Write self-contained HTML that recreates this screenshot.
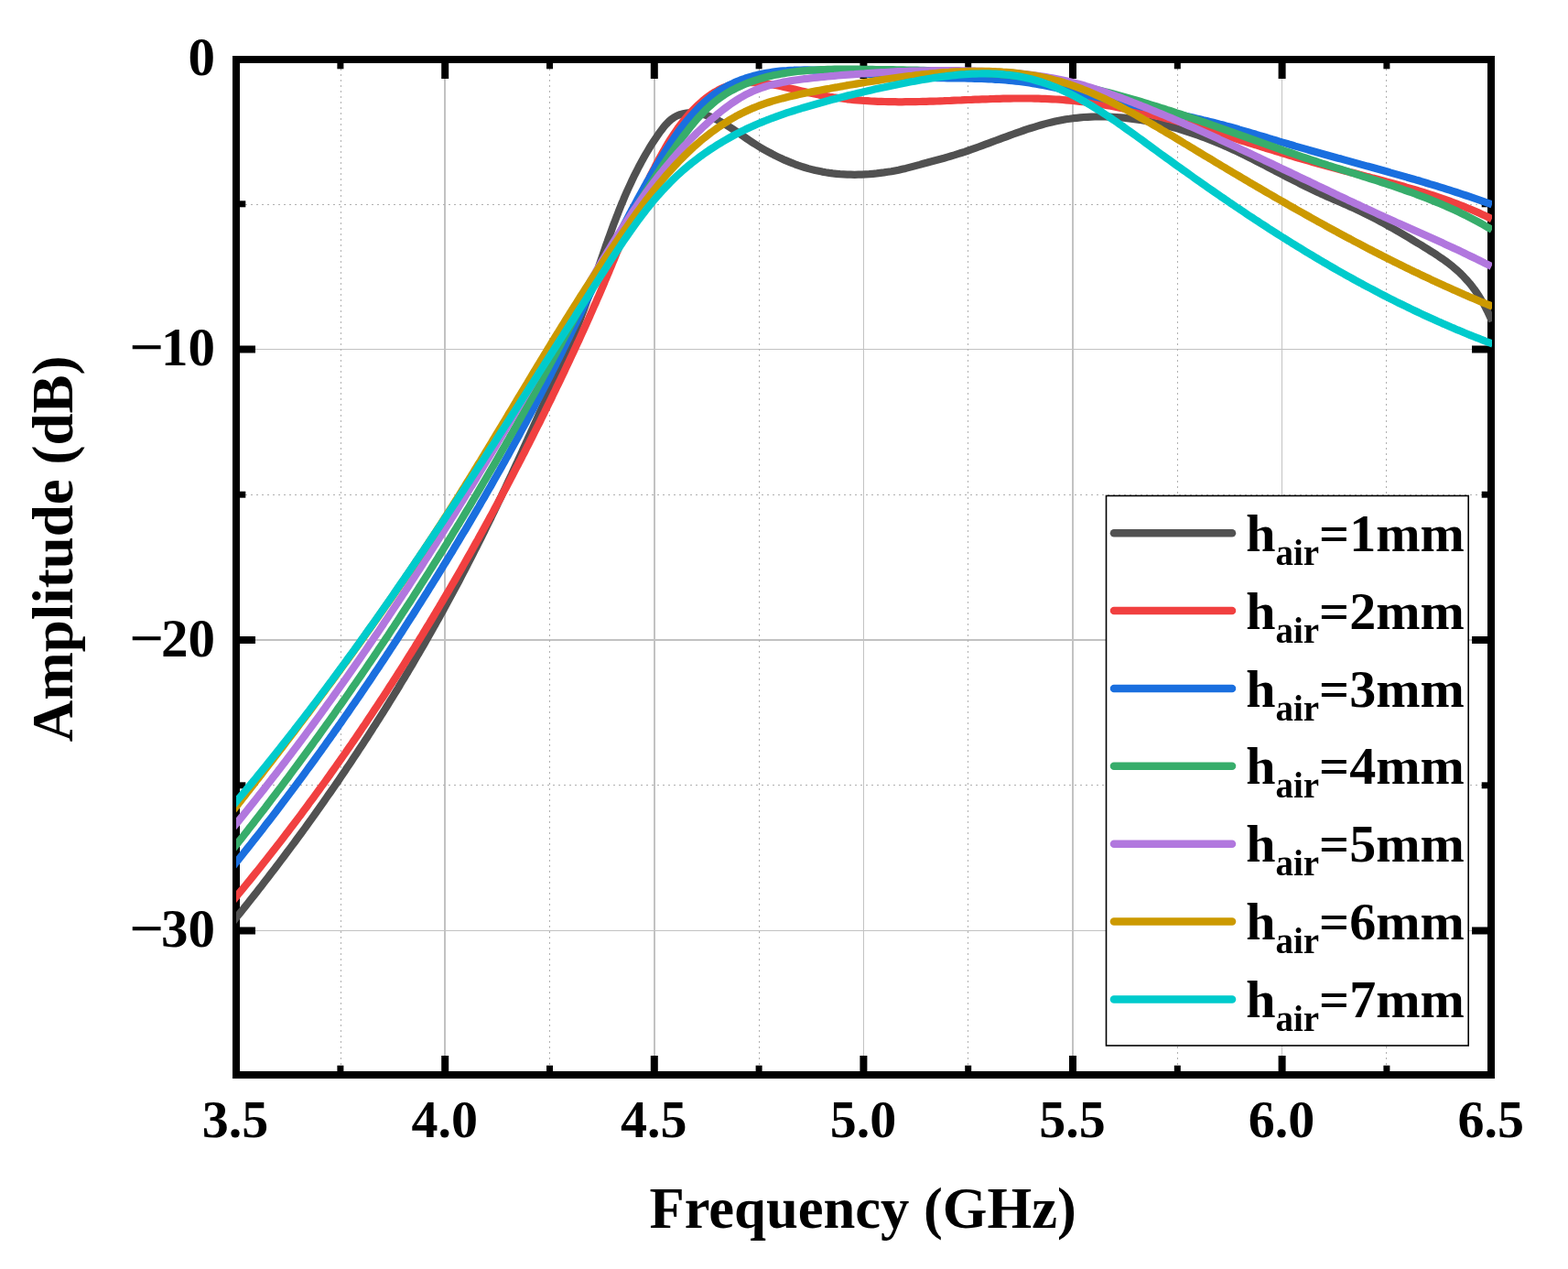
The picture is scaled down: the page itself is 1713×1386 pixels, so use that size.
<!DOCTYPE html><html><head><meta charset="utf-8"><style>html,body{margin:0;padding:0;background:#fff;width:1713px;height:1386px;overflow:hidden}svg{display:block}text{font-family:"Liberation Serif","Times New Roman",serif;font-weight:bold;fill:#000}</style></head><body>
<svg width="1713" height="1386" viewBox="0 0 1713 1386">
<rect width="1713" height="1386" fill="#fff"/>
<g fill="#c2c2c2"><rect x="485.0" y="69" width="2" height="1101"/><rect x="714.0" y="69" width="2" height="1101"/><rect x="943.0" y="69" width="1" height="1101"/><rect x="1171.0" y="69" width="2" height="1101"/><rect x="1400.0" y="69" width="1" height="1101"/><rect x="262" y="381.0" width="1363" height="1"/><rect x="262" y="698.0" width="1363" height="2"/><rect x="262" y="1016.0" width="1363" height="1"/></g>
<g stroke="#b0b0b0" stroke-width="1" stroke-dasharray="2 4" shape-rendering="crispEdges"><line x1="372.5" y1="69" x2="372.5" y2="1170"/><line x1="600.5" y1="69" x2="600.5" y2="1170"/><line x1="829.5" y1="69" x2="829.5" y2="1170"/><line x1="1057.5" y1="69" x2="1057.5" y2="1170"/><line x1="1286.5" y1="69" x2="1286.5" y2="1170"/><line x1="1514.5" y1="69" x2="1514.5" y2="1170"/><line x1="262" y1="223.5" x2="1625" y2="223.5"/><line x1="262" y1="540.5" x2="1625" y2="540.5"/><line x1="262" y1="857.5" x2="1625" y2="857.5"/></g>
<rect x="258.0" y="65.0" width="1371.0" height="1109.0" fill="none" stroke="#000" stroke-width="8.0"/>
<g stroke="#000" stroke-width="8"><line x1="486.2" y1="1174.0" x2="486.2" y2="1153.0"/><line x1="486.2" y1="65.0" x2="486.2" y2="86.0"/><line x1="714.8" y1="1174.0" x2="714.8" y2="1153.0"/><line x1="714.8" y1="65.0" x2="714.8" y2="86.0"/><line x1="943.4" y1="1174.0" x2="943.4" y2="1153.0"/><line x1="943.4" y1="65.0" x2="943.4" y2="86.0"/><line x1="1172.0" y1="1174.0" x2="1172.0" y2="1153.0"/><line x1="1172.0" y1="65.0" x2="1172.0" y2="86.0"/><line x1="1400.6" y1="1174.0" x2="1400.6" y2="1153.0"/><line x1="1400.6" y1="65.0" x2="1400.6" y2="86.0"/><line x1="371.9" y1="1174.0" x2="371.9" y2="1163.7" stroke-width="7"/><line x1="371.9" y1="65.0" x2="371.9" y2="75.3" stroke-width="7"/><line x1="600.5" y1="1174.0" x2="600.5" y2="1163.7" stroke-width="7"/><line x1="600.5" y1="65.0" x2="600.5" y2="75.3" stroke-width="7"/><line x1="829.1" y1="1174.0" x2="829.1" y2="1163.7" stroke-width="7"/><line x1="829.1" y1="65.0" x2="829.1" y2="75.3" stroke-width="7"/><line x1="1057.7" y1="1174.0" x2="1057.7" y2="1163.7" stroke-width="7"/><line x1="1057.7" y1="65.0" x2="1057.7" y2="75.3" stroke-width="7"/><line x1="1286.3" y1="1174.0" x2="1286.3" y2="1163.7" stroke-width="7"/><line x1="1286.3" y1="65.0" x2="1286.3" y2="75.3" stroke-width="7"/><line x1="1514.9" y1="1174.0" x2="1514.9" y2="1163.7" stroke-width="7"/><line x1="1514.9" y1="65.0" x2="1514.9" y2="75.3" stroke-width="7"/><line x1="258.0" y1="381.5" x2="279.0" y2="381.5"/><line x1="1629.0" y1="381.5" x2="1608.0" y2="381.5"/><line x1="258.0" y1="699.0" x2="279.0" y2="699.0"/><line x1="1629.0" y1="699.0" x2="1608.0" y2="699.0"/><line x1="258.0" y1="1016.5" x2="279.0" y2="1016.5"/><line x1="1629.0" y1="1016.5" x2="1608.0" y2="1016.5"/><line x1="258.0" y1="222.8" x2="268.3" y2="222.8" stroke-width="7"/><line x1="1629.0" y1="222.8" x2="1618.7" y2="222.8" stroke-width="7"/><line x1="258.0" y1="540.2" x2="268.3" y2="540.2" stroke-width="7"/><line x1="1629.0" y1="540.2" x2="1618.7" y2="540.2" stroke-width="7"/><line x1="258.0" y1="857.8" x2="268.3" y2="857.8" stroke-width="7"/><line x1="1629.0" y1="857.8" x2="1618.7" y2="857.8" stroke-width="7"/></g>
<defs><clipPath id="pc"><rect x="258" y="0" width="1372" height="1386"/></clipPath></defs><g clip-path="url(#pc)" fill="none" stroke-width="8.2" stroke-linejoin="round">
<path d="M250.0,1012.4 258.1,1002.3 260.6,999.2 263.1,996.1 265.6,993.0 268.1,989.9 270.6,986.8 273.1,983.6 275.5,980.5 278.0,977.4 280.5,974.2 282.9,971.1 285.4,967.9 287.8,964.8 290.3,961.6 292.7,958.5 295.1,955.3 297.6,952.1 300.0,949.0 302.4,945.8 304.8,942.6 307.2,939.4 309.6,936.2 312.0,933.0 314.4,929.8 316.8,926.6 319.2,923.4 321.6,920.2 323.9,917.0 326.3,913.8 328.7,910.5 331.0,907.3 333.4,904.1 335.7,900.8 338.0,897.6 340.4,894.3 342.7,891.1 345.0,887.8 347.3,884.6 349.6,881.3 351.9,878.1 354.2,874.8 356.5,871.5 358.8,868.2 361.1,865.0 363.4,861.7 365.6,858.4 367.9,855.1 370.2,851.8 372.4,848.5 374.7,845.2 376.9,841.9 379.1,838.6 381.4,835.2 383.6,831.9 385.8,828.6 388.0,825.3 390.2,821.9 392.4,818.6 394.6,815.2 396.8,811.9 399.0,808.6 401.2,805.2 403.3,801.9 405.5,798.5 407.6,795.1 409.8,791.8 411.9,788.4 414.1,785.0 416.2,781.6 418.4,778.2 420.5,774.9 422.6,771.5 424.7,768.1 426.8,764.7 428.9,761.3 431.0,757.9 433.1,754.5 435.2,751.1 437.2,747.6 439.3,744.2 441.4,740.8 443.4,737.4 445.5,734.0 447.5,730.5 449.6,727.1 451.6,723.6 453.6,720.2 455.6,716.7 457.7,713.3 459.7,709.8 461.7,706.4 463.7,702.9 465.6,699.5 467.6,696.0 469.6,692.5 471.6,689.0 473.5,685.5 475.5,682.1 477.4,678.6 479.4,675.1 481.3,671.6 483.3,668.1 485.2,664.6 487.1,661.1 489.0,657.6 490.9,654.1 492.8,650.6 494.7,647.0 496.6,643.5 498.5,640.0 500.4,636.5 502.2,633.0 504.1,629.4 505.9,625.9 507.8,622.3 509.6,618.8 511.5,615.2 513.3,611.7 515.1,608.1 516.9,604.6 518.7,601.0 520.5,597.5 522.3,593.9 524.1,590.3 525.9,586.8 527.7,583.2 529.5,579.6 531.2,576.0 533.0,572.4 534.7,568.9 536.5,565.3 538.2,561.7 540.0,558.1 541.7,554.5 543.4,550.9 545.1,547.3 546.9,543.7 548.6,540.1 550.3,536.5 552.0,532.9 553.7,529.2 555.4,525.6 557.1,522.0 558.8,518.4 560.4,514.8 562.1,511.1 563.8,507.5 565.5,503.9 567.1,500.3 568.8,496.6 570.5,493.0 572.1,489.4 573.8,485.7 575.5,482.1 577.1,478.5 578.8,474.8 580.4,471.2 582.1,467.5 583.7,463.9 585.4,460.2 587.0,456.6 588.6,453.0 590.3,449.3 591.9,445.7 593.6,442.0 595.2,438.4 596.9,434.7 598.5,431.1 600.1,427.4 601.8,423.8 603.4,420.1 605.0,416.5 606.7,412.8 608.3,409.1 609.9,405.5 611.5,401.8 613.2,398.2 614.8,394.5 616.4,390.9 618.0,387.2 619.6,383.5 621.1,379.9 622.7,376.2 624.2,372.5 625.8,368.8 627.3,365.1 628.8,361.5 630.3,357.8 631.7,354.1 633.2,350.4 634.6,346.7 636.0,342.9 637.4,339.2 638.8,335.5 640.1,331.8 641.4,328.0 642.8,324.3 644.1,320.6 645.4,316.8 646.7,313.1 648.0,309.3 649.3,305.5 650.5,301.8 651.8,298.0 653.1,294.2 654.4,290.4 655.7,286.6 657.0,282.8 658.3,279.1 659.6,275.3 660.9,271.5 662.2,267.7 663.6,263.9 664.9,260.1 666.3,256.3 667.7,252.5 669.0,248.8 670.4,245.0 671.9,241.2 673.3,237.5 674.8,233.7 676.2,230.0 677.7,226.2 679.2,222.5 680.8,218.8 682.3,215.1 683.9,211.4 685.5,207.8 687.2,204.1 688.9,200.5 690.6,196.8 692.3,193.2 694.1,189.6 695.9,186.1 697.7,182.5 699.6,179.0 701.5,175.4 703.4,172.0 705.4,168.5 707.5,165.0 709.5,161.6 711.6,158.2 713.8,154.8 716.0,151.5 718.2,148.2 720.5,144.9 722.9,141.7 725.3,138.5 727.9,135.6 730.5,132.9 733.3,130.4 736.3,128.3 739.5,126.5 742.9,125.2 746.4,124.2 750.0,123.5 753.8,123.2 757.6,123.3 761.4,123.6 765.2,124.2 768.9,125.1 772.6,126.2 776.3,127.6 779.9,129.2 783.5,130.9 787.1,132.8 790.7,134.8 794.2,137.0 797.8,139.2 801.3,141.5 804.8,143.9 808.3,146.2 811.8,148.7 815.2,151.0 818.7,153.4 822.2,155.7 825.7,157.9 829.2,160.1 832.7,162.2 836.2,164.2 839.8,166.2 843.3,168.0 846.8,169.9 850.4,171.6 854.0,173.3 857.5,174.9 861.1,176.4 864.8,177.9 868.4,179.3 872.0,180.6 875.7,181.8 879.4,183.0 883.1,184.1 886.9,185.1 890.6,186.0 894.4,186.8 898.2,187.6 902.0,188.3 905.9,188.9 909.8,189.4 913.7,189.8 917.6,190.2 921.6,190.4 925.6,190.6 929.6,190.7 933.6,190.8 937.6,190.7 941.6,190.6 945.7,190.4 949.7,190.2 953.7,189.8 957.8,189.4 961.8,188.9 965.8,188.4 969.8,187.8 973.8,187.2 977.8,186.4 981.7,185.7 985.6,184.8 989.5,183.9 993.4,182.9 997.2,181.9 1001.0,180.9 1004.8,179.9 1008.6,178.8 1012.4,177.8 1016.1,176.7 1019.9,175.7 1023.7,174.7 1027.5,173.7 1031.3,172.7 1035.0,171.6 1038.8,170.5 1042.6,169.4 1046.4,168.2 1050.1,167.0 1053.9,165.8 1057.7,164.5 1061.5,163.2 1065.2,161.9 1069.0,160.5 1072.8,159.1 1076.6,157.7 1080.3,156.3 1084.1,154.9 1087.9,153.5 1091.7,152.1 1095.5,150.7 1099.3,149.3 1103.1,147.9 1106.9,146.5 1110.7,145.1 1114.5,143.8 1118.3,142.5 1122.1,141.2 1125.9,140.0 1129.8,138.8 1133.6,137.6 1137.4,136.5 1141.3,135.4 1145.2,134.4 1149.0,133.5 1152.9,132.6 1156.8,131.8 1160.7,131.0 1164.5,130.3 1168.5,129.8 1172.4,129.2 1176.3,128.8 1180.2,128.4 1184.1,128.0 1188.1,127.8 1192.0,127.6 1196.0,127.5 1199.9,127.4 1203.8,127.4 1207.8,127.5 1211.8,127.6 1215.7,127.8 1219.7,128.0 1223.6,128.3 1227.6,128.7 1231.5,129.1 1235.5,129.6 1239.4,130.1 1243.4,130.7 1247.3,131.3 1251.2,132.0 1255.2,132.8 1259.1,133.6 1263.0,134.4 1266.9,135.3 1270.8,136.2 1274.7,137.2 1278.6,138.2 1282.5,139.3 1286.4,140.4 1290.2,141.6 1294.1,142.8 1297.9,144.0 1301.8,145.3 1305.6,146.6 1309.4,147.9 1313.2,149.3 1317.0,150.7 1320.7,152.2 1324.5,153.7 1328.2,155.2 1331.9,156.7 1335.6,158.3 1339.3,159.9 1342.9,161.6 1346.6,163.2 1350.2,164.9 1353.8,166.6 1357.4,168.4 1361.0,170.1 1364.5,171.9 1368.1,173.7 1371.7,175.5 1375.2,177.3 1378.7,179.1 1382.3,180.9 1385.8,182.8 1389.3,184.6 1392.8,186.5 1396.4,188.3 1399.9,190.1 1403.4,192.0 1406.9,193.8 1410.5,195.6 1414.0,197.4 1417.6,199.2 1421.1,201.0 1424.7,202.8 1428.3,204.6 1431.9,206.3 1435.5,208.0 1439.1,209.7 1442.7,211.4 1446.4,213.0 1450.0,214.7 1453.7,216.3 1457.4,217.9 1461.1,219.5 1464.7,221.1 1468.4,222.7 1472.1,224.3 1475.7,226.0 1479.4,227.6 1483.0,229.3 1486.7,231.0 1490.2,232.7 1493.8,234.5 1497.4,236.3 1500.9,238.1 1504.4,239.9 1507.9,241.8 1511.4,243.7 1514.9,245.6 1518.3,247.6 1521.8,249.5 1525.2,251.5 1528.7,253.5 1532.1,255.5 1535.5,257.5 1539.0,259.6 1542.4,261.6 1545.8,263.7 1549.2,265.8 1552.7,267.8 1556.1,269.9 1559.5,272.0 1562.9,274.2 1566.3,276.3 1569.7,278.5 1573.0,280.8 1576.3,283.0 1579.6,285.4 1582.8,287.8 1585.9,290.2 1589.0,292.8 1592.0,295.4 1594.9,298.0 1597.7,300.8 1600.4,303.7 1603.1,306.6 1605.7,309.6 1608.2,312.8 1610.6,315.9 1612.9,319.2 1615.1,322.5 1617.2,325.9 1619.3,329.3 1621.3,332.8 1623.2,336.3 1625.0,339.9 1626.7,343.6 1628.4,347.2 1629.9,351.0" stroke="#515151"/>
<path d="M250.0,989.2 257.8,979.8 260.2,976.8 262.6,973.9 265.1,970.9 267.5,968.0 269.9,965.0 272.3,962.1 274.7,959.1 277.1,956.1 279.5,953.2 281.9,950.2 284.3,947.2 286.6,944.2 289.0,941.2 291.4,938.2 293.7,935.2 296.1,932.2 298.4,929.2 300.8,926.2 303.1,923.2 305.5,920.2 307.8,917.2 310.1,914.2 312.4,911.1 314.8,908.1 317.1,905.1 319.4,902.0 321.7,899.0 324.0,896.0 326.3,892.9 328.6,889.9 330.8,886.8 333.1,883.8 335.4,880.7 337.6,877.6 339.9,874.6 342.2,871.5 344.4,868.4 346.6,865.3 348.9,862.2 351.1,859.2 353.4,856.1 355.6,853.0 357.8,849.9 360.0,846.8 362.2,843.7 364.4,840.6 366.6,837.5 368.8,834.4 371.0,831.2 373.2,828.1 375.4,825.0 377.6,821.9 379.7,818.8 381.9,815.6 384.1,812.5 386.2,809.4 388.4,806.2 390.5,803.1 392.7,799.9 394.8,796.8 396.9,793.6 399.1,790.5 401.2,787.3 403.3,784.1 405.4,781.0 407.5,777.8 409.6,774.6 411.7,771.4 413.8,768.3 415.9,765.1 418.0,761.9 420.1,758.7 422.2,755.5 424.2,752.3 426.3,749.1 428.4,745.9 430.4,742.7 432.5,739.5 434.5,736.3 436.6,733.1 438.6,729.9 440.7,726.6 442.7,723.4 444.7,720.2 446.7,717.0 448.8,713.7 450.8,710.5 452.8,707.3 454.8,704.0 456.8,700.8 458.8,697.5 460.8,694.3 462.8,691.0 464.7,687.8 466.7,684.5 468.7,681.3 470.7,678.0 472.6,674.8 474.6,671.5 476.5,668.2 478.5,665.0 480.4,661.7 482.4,658.4 484.3,655.1 486.2,651.8 488.2,648.5 490.1,645.3 492.0,642.0 493.9,638.7 495.9,635.4 497.8,632.1 499.7,628.8 501.6,625.5 503.5,622.2 505.4,618.9 507.2,615.6 509.1,612.2 511.0,608.9 512.9,605.6 514.8,602.3 516.6,599.0 518.5,595.6 520.3,592.3 522.2,589.0 524.0,585.6 525.9,582.3 527.7,579.0 529.6,575.6 531.4,572.3 533.2,569.0 535.0,565.6 536.9,562.2 538.7,558.9 540.5,555.5 542.3,552.2 544.1,548.8 545.9,545.5 547.7,542.1 549.5,538.7 551.3,535.4 553.1,532.0 554.9,528.6 556.6,525.3 558.4,521.9 560.2,518.5 561.9,515.1 563.7,511.7 565.5,508.4 567.2,505.0 569.0,501.6 570.7,498.2 572.5,494.8 574.2,491.4 575.9,488.0 577.7,484.6 579.4,481.2 581.1,477.8 582.8,474.4 584.5,471.0 586.2,467.6 588.0,464.2 589.7,460.8 591.4,457.3 593.1,453.9 594.8,450.5 596.4,447.1 598.1,443.7 599.8,440.2 601.5,436.8 603.2,433.4 604.8,429.9 606.5,426.5 608.1,423.1 609.8,419.6 611.5,416.2 613.1,412.8 614.8,409.3 616.4,405.9 618.0,402.4 619.6,399.0 621.3,395.5 622.9,392.1 624.5,388.6 626.1,385.2 627.7,381.7 629.3,378.3 630.9,374.8 632.5,371.4 634.1,367.9 635.7,364.4 637.2,361.0 638.8,357.5 640.4,354.0 641.9,350.6 643.5,347.1 645.0,343.6 646.6,340.1 648.1,336.7 649.6,333.2 651.2,329.7 652.7,326.2 654.2,322.8 655.7,319.3 657.2,315.8 658.7,312.3 660.2,308.8 661.6,305.3 663.1,301.8 664.6,298.4 666.0,294.9 667.5,291.4 668.9,287.9 670.4,284.4 671.8,280.9 673.2,277.4 674.7,273.9 676.1,270.4 677.6,266.9 679.0,263.4 680.5,259.9 681.9,256.4 683.4,252.9 684.8,249.4 686.3,245.9 687.8,242.4 689.2,239.0 690.7,235.5 692.2,232.0 693.8,228.5 695.3,225.0 696.8,221.6 698.4,218.1 699.9,214.6 701.5,211.2 703.1,207.7 704.7,204.2 706.4,200.8 708.0,197.3 709.7,193.9 711.4,190.4 713.1,187.0 714.9,183.6 716.6,180.2 718.4,176.7 720.2,173.3 722.1,169.9 724.0,166.5 725.9,163.2 727.8,159.8 729.8,156.5 731.8,153.2 733.9,149.9 736.0,146.7 738.2,143.5 740.4,140.3 742.7,137.2 745.0,134.2 747.4,131.1 749.9,128.2 752.4,125.2 754.9,122.4 757.6,119.6 760.3,116.9 763.1,114.2 765.9,111.7 768.8,109.2 771.8,106.8 774.8,104.6 777.9,102.5 781.0,100.5 784.2,98.7 787.5,97.0 790.8,95.5 794.1,94.2 797.5,93.1 800.9,92.1 804.4,91.4 807.9,90.8 811.5,90.4 815.1,90.2 818.7,90.1 822.4,90.1 826.1,90.3 829.8,90.5 833.5,90.9 837.3,91.4 841.1,92.0 844.9,92.6 848.7,93.3 852.5,94.1 856.4,94.9 860.2,95.8 864.1,96.7 868.0,97.6 871.8,98.5 875.7,99.4 879.5,100.3 883.4,101.2 887.3,102.0 891.1,102.8 894.9,103.6 898.8,104.3 902.6,105.0 906.4,105.7 910.2,106.3 914.0,106.8 917.8,107.3 921.5,107.8 925.3,108.3 929.1,108.7 932.8,109.1 936.6,109.4 940.4,109.7 944.1,110.0 947.9,110.2 951.6,110.5 955.4,110.6 959.1,110.8 962.9,110.9 966.6,111.0 970.4,111.1 974.1,111.2 977.9,111.2 981.6,111.3 985.4,111.3 989.2,111.2 992.9,111.2 996.7,111.2 1000.5,111.1 1004.3,111.0 1008.1,110.9 1011.9,110.8 1015.7,110.7 1019.5,110.6 1023.3,110.5 1027.1,110.3 1030.9,110.2 1034.7,110.0 1038.5,109.9 1042.4,109.7 1046.2,109.5 1050.0,109.4 1053.9,109.2 1057.7,109.0 1061.5,108.9 1065.3,108.7 1069.2,108.6 1073.0,108.4 1076.9,108.3 1080.7,108.2 1084.5,108.0 1088.4,107.9 1092.2,107.8 1096.0,107.7 1099.9,107.6 1103.7,107.6 1107.5,107.5 1111.4,107.5 1115.2,107.5 1119.0,107.5 1122.8,107.5 1126.7,107.5 1130.5,107.6 1134.3,107.7 1138.1,107.8 1141.9,107.9 1145.7,108.1 1149.5,108.3 1153.3,108.5 1157.1,108.7 1160.9,109.0 1164.7,109.3 1168.5,109.6 1172.2,110.0 1176.0,110.4 1179.8,110.8 1183.5,111.2 1187.3,111.7 1191.0,112.2 1194.8,112.8 1198.5,113.3 1202.3,113.9 1206.0,114.5 1209.7,115.1 1213.5,115.8 1217.2,116.5 1220.9,117.2 1224.6,117.9 1228.4,118.6 1232.1,119.4 1235.8,120.2 1239.5,121.0 1243.2,121.8 1246.9,122.6 1250.6,123.5 1254.3,124.4 1258.0,125.2 1261.7,126.2 1265.4,127.1 1269.1,128.0 1272.7,129.0 1276.4,129.9 1280.1,130.9 1283.8,131.9 1287.5,132.9 1291.1,133.9 1294.8,135.0 1298.5,136.0 1302.2,137.1 1305.8,138.1 1309.5,139.2 1313.2,140.3 1316.8,141.4 1320.5,142.5 1324.1,143.6 1327.8,144.7 1331.5,145.8 1335.1,146.9 1338.8,148.0 1342.4,149.2 1346.1,150.3 1349.8,151.4 1353.4,152.6 1357.1,153.7 1360.7,154.8 1364.4,156.0 1368.0,157.1 1371.7,158.2 1375.3,159.4 1379.0,160.5 1382.6,161.7 1386.3,162.8 1390.0,163.9 1393.6,165.0 1397.3,166.2 1400.9,167.3 1404.6,168.4 1408.2,169.5 1411.9,170.6 1415.6,171.7 1419.2,172.8 1422.9,173.8 1426.6,174.9 1430.2,175.9 1433.9,177.0 1437.6,178.0 1441.2,179.1 1444.9,180.1 1448.6,181.1 1452.2,182.1 1455.9,183.1 1459.6,184.0 1463.3,185.0 1467.0,186.0 1470.6,186.9 1474.3,187.9 1478.0,188.8 1481.7,189.8 1485.3,190.8 1489.0,191.7 1492.7,192.7 1496.4,193.6 1500.0,194.6 1503.7,195.5 1507.4,196.5 1511.0,197.5 1514.7,198.5 1518.4,199.4 1522.0,200.4 1525.7,201.5 1529.3,202.5 1533.0,203.5 1536.6,204.6 1540.3,205.6 1543.9,206.7 1547.6,207.8 1551.2,208.9 1554.8,210.0 1558.5,211.1 1562.1,212.3 1565.7,213.5 1569.3,214.7 1572.9,215.9 1576.5,217.1 1580.1,218.4 1583.7,219.7 1587.3,221.0 1590.9,222.3 1594.4,223.7 1598.0,225.1 1601.5,226.6 1605.1,228.0 1608.7,229.5 1612.2,231.0 1615.7,232.6 1619.2,234.2 1622.8,235.8 1626.3,237.5 1629.8,239.2" stroke="#F14040"/>
<path d="M250.0,951.9 257.9,942.0 260.3,939.1 262.6,936.2 265.0,933.2 267.3,930.3 269.6,927.4 272.0,924.4 274.3,921.5 276.6,918.5 278.9,915.6 281.2,912.7 283.6,909.7 285.9,906.8 288.1,903.8 290.4,900.8 292.7,897.9 295.0,894.9 297.3,892.0 299.6,889.0 301.9,886.0 304.1,883.0 306.4,880.0 308.6,877.1 310.9,874.1 313.1,871.1 315.4,868.1 317.6,865.1 319.9,862.1 322.1,859.1 324.3,856.1 326.6,853.1 328.8,850.1 331.0,847.1 333.2,844.1 335.4,841.0 337.6,838.0 339.8,835.0 342.0,832.0 344.2,829.0 346.4,825.9 348.6,822.9 350.8,819.9 352.9,816.8 355.1,813.8 357.3,810.7 359.5,807.7 361.6,804.6 363.8,801.6 365.9,798.5 368.1,795.5 370.2,792.4 372.4,789.4 374.5,786.3 376.6,783.2 378.8,780.2 380.9,777.1 383.0,774.0 385.1,770.9 387.3,767.9 389.4,764.8 391.5,761.7 393.6,758.6 395.7,755.5 397.8,752.4 399.9,749.3 402.0,746.2 404.1,743.1 406.2,740.0 408.2,736.9 410.3,733.8 412.4,730.7 414.5,727.6 416.5,724.5 418.6,721.4 420.7,718.2 422.7,715.1 424.8,712.0 426.8,708.9 428.9,705.7 430.9,702.6 433.0,699.5 435.0,696.3 437.0,693.2 439.1,690.1 441.1,686.9 443.1,683.8 445.1,680.6 447.1,677.5 449.2,674.3 451.2,671.2 453.2,668.0 455.2,664.9 457.2,661.7 459.2,658.5 461.2,655.4 463.2,652.2 465.2,649.0 467.2,645.9 469.1,642.7 471.1,639.5 473.1,636.4 475.1,633.2 477.1,630.0 479.0,626.8 481.0,623.6 483.0,620.4 484.9,617.2 486.9,614.0 488.8,610.9 490.8,607.7 492.7,604.5 494.7,601.3 496.6,598.0 498.5,594.9 500.5,591.6 502.4,588.4 504.3,585.2 506.2,582.0 508.2,578.8 510.1,575.6 512.0,572.4 513.9,569.1 515.8,565.9 517.7,562.7 519.6,559.4 521.5,556.2 523.4,553.0 525.2,549.7 527.1,546.5 529.0,543.3 530.9,540.0 532.7,536.8 534.6,533.5 536.5,530.3 538.3,527.0 540.1,523.8 542.0,520.5 543.8,517.3 545.7,514.0 547.5,510.7 549.3,507.5 551.2,504.2 553.0,500.9 554.8,497.7 556.6,494.4 558.4,491.1 560.2,487.8 562.0,484.6 563.8,481.3 565.6,478.0 567.4,474.7 569.1,471.4 570.9,468.1 572.7,464.8 574.5,461.5 576.2,458.2 578.0,454.9 579.7,451.6 581.5,448.3 583.2,445.0 584.9,441.7 586.6,438.4 588.4,435.1 590.1,431.8 591.8,428.4 593.5,425.1 595.2,421.8 596.9,418.5 598.6,415.1 600.3,411.8 602.0,408.5 603.6,405.1 605.3,401.8 607.0,398.5 608.6,395.1 610.3,391.8 612.0,388.4 613.6,385.1 615.2,381.7 616.9,378.4 618.5,375.0 620.1,371.7 621.8,368.3 623.4,365.0 625.0,361.6 626.6,358.2 628.2,354.9 629.9,351.5 631.5,348.2 633.1,344.8 634.7,341.4 636.3,338.1 637.9,334.7 639.5,331.4 641.2,328.0 642.8,324.6 644.4,321.3 646.0,317.9 647.6,314.5 649.2,311.2 650.9,307.8 652.5,304.5 654.1,301.1 655.8,297.7 657.4,294.4 659.0,291.0 660.7,287.7 662.3,284.3 664.0,281.0 665.6,277.6 667.3,274.3 668.9,270.9 670.6,267.6 672.3,264.2 674.0,260.9 675.6,257.6 677.3,254.2 679.0,250.9 680.7,247.6 682.5,244.2 684.2,240.9 685.9,237.6 687.6,234.3 689.4,231.0 691.1,227.7 692.9,224.4 694.7,221.1 696.5,217.8 698.3,214.5 700.1,211.2 701.9,207.9 703.7,204.6 705.6,201.3 707.4,198.0 709.3,194.8 711.1,191.5 713.0,188.2 714.9,185.0 716.8,181.7 718.8,178.5 720.7,175.2 722.7,172.0 724.6,168.8 726.6,165.6 728.6,162.4 730.7,159.2 732.8,156.1 734.9,152.9 737.0,149.8 739.1,146.8 741.3,143.7 743.5,140.7 745.8,137.7 748.1,134.8 750.5,131.9 752.8,129.1 755.3,126.2 757.8,123.5 760.3,120.8 762.9,118.1 765.5,115.5 768.2,113.0 770.9,110.5 773.7,108.1 776.6,105.8 779.5,103.6 782.5,101.4 785.5,99.4 788.6,97.4 791.8,95.6 795.0,93.8 798.3,92.2 801.6,90.6 805.0,89.1 808.4,87.7 811.9,86.5 815.4,85.2 818.9,84.1 822.5,83.1 826.1,82.2 829.8,81.3 833.5,80.5 837.1,79.8 840.9,79.2 844.6,78.6 848.3,78.1 852.1,77.7 855.8,77.3 859.6,77.1 863.3,76.8 867.1,76.7 870.9,76.5 874.6,76.5 878.4,76.4 882.2,76.4 885.9,76.5 889.7,76.6 893.4,76.7 897.2,76.8 900.9,77.0 904.6,77.2 908.4,77.4 912.1,77.7 915.8,77.9 919.5,78.2 923.3,78.5 927.0,78.8 930.7,79.1 934.4,79.5 938.1,79.8 941.9,80.1 945.6,80.5 949.3,80.8 953.0,81.2 956.7,81.5 960.4,81.8 964.1,82.2 967.9,82.5 971.6,82.8 975.3,83.1 979.0,83.3 982.7,83.6 986.4,83.8 990.2,84.0 993.9,84.2 997.6,84.4 1001.4,84.5 1005.1,84.7 1008.8,84.8 1012.6,84.9 1016.3,85.0 1020.0,85.0 1023.8,85.1 1027.5,85.2 1031.3,85.2 1035.0,85.3 1038.8,85.3 1042.5,85.4 1046.3,85.4 1050.0,85.5 1053.8,85.5 1057.6,85.6 1061.3,85.7 1065.1,85.8 1068.8,85.9 1072.6,86.0 1076.3,86.2 1080.0,86.3 1083.8,86.5 1087.5,86.8 1091.3,87.0 1095.0,87.2 1098.7,87.5 1102.4,87.9 1106.2,88.2 1109.9,88.6 1113.6,89.0 1117.3,89.5 1121.0,90.0 1124.7,90.5 1128.3,91.1 1132.0,91.8 1135.7,92.4 1139.3,93.1 1143.0,93.8 1146.6,94.5 1150.3,95.3 1153.9,96.1 1157.6,96.9 1161.2,97.7 1164.8,98.5 1168.5,99.3 1172.1,100.2 1175.8,101.0 1179.4,101.8 1183.0,102.7 1186.7,103.5 1190.3,104.4 1194.0,105.2 1197.6,106.0 1201.3,106.8 1204.9,107.6 1208.6,108.4 1212.2,109.2 1215.9,110.0 1219.5,110.7 1223.2,111.5 1226.8,112.3 1230.5,113.0 1234.2,113.8 1237.8,114.5 1241.5,115.3 1245.1,116.1 1248.8,116.8 1252.5,117.6 1256.1,118.3 1259.8,119.1 1263.4,119.9 1267.1,120.6 1270.8,121.4 1274.4,122.2 1278.1,123.0 1281.7,123.7 1285.4,124.5 1289.0,125.3 1292.7,126.1 1296.3,126.9 1300.0,127.8 1303.6,128.6 1307.2,129.4 1310.9,130.3 1314.5,131.2 1318.2,132.0 1321.8,132.9 1325.4,133.8 1329.0,134.7 1332.6,135.7 1336.2,136.6 1339.9,137.6 1343.5,138.5 1347.0,139.5 1350.7,140.5 1354.2,141.6 1357.8,142.6 1361.4,143.6 1365.0,144.7 1368.5,145.8 1372.1,146.8 1375.7,147.9 1379.3,148.9 1382.8,150.0 1386.4,151.1 1390.0,152.2 1393.6,153.2 1397.1,154.3 1400.7,155.4 1404.3,156.4 1407.9,157.5 1411.5,158.5 1415.0,159.6 1418.6,160.6 1422.2,161.6 1425.8,162.6 1429.4,163.7 1433.0,164.7 1436.6,165.7 1440.2,166.7 1443.8,167.7 1447.3,168.7 1451.0,169.7 1454.5,170.7 1458.1,171.7 1461.7,172.7 1465.3,173.6 1468.9,174.6 1472.5,175.6 1476.1,176.6 1479.7,177.6 1483.3,178.6 1486.9,179.6 1490.5,180.6 1494.1,181.6 1497.7,182.5 1501.3,183.5 1504.9,184.5 1508.5,185.5 1512.1,186.5 1515.7,187.5 1519.3,188.6 1522.9,189.6 1526.5,190.6 1530.1,191.6 1533.7,192.6 1537.3,193.7 1540.9,194.7 1544.5,195.7 1548.1,196.8 1551.7,197.8 1555.2,198.9 1558.8,200.0 1562.4,201.1 1566.0,202.1 1569.5,203.2 1573.1,204.3 1576.7,205.4 1580.3,206.6 1583.8,207.7 1587.4,208.8 1591.0,210.0 1594.5,211.1 1598.1,212.3 1601.6,213.5 1605.2,214.7 1608.7,215.9 1612.3,217.1 1615.8,218.3 1619.4,219.6 1622.9,220.8 1626.4,222.1 1630.0,223.4" stroke="#1A6FDF"/>
<path d="M250.0,933.1 258.4,922.5 260.7,919.5 263.0,916.6 265.3,913.7 267.6,910.8 269.9,907.9 272.1,904.9 274.4,902.0 276.7,899.1 279.0,896.1 281.2,893.2 283.5,890.3 285.8,887.3 288.0,884.4 290.3,881.5 292.5,878.5 294.8,875.5 297.0,872.6 299.3,869.6 301.5,866.7 303.7,863.7 306.0,860.8 308.2,857.8 310.4,854.8 312.7,851.8 314.9,848.9 317.1,845.9 319.3,842.9 321.5,839.9 323.7,837.0 325.9,834.0 328.1,831.0 330.3,828.0 332.5,825.0 334.7,822.0 336.9,819.0 339.1,816.0 341.3,813.0 343.4,810.0 345.6,807.0 347.8,804.0 350.0,800.9 352.1,797.9 354.3,794.9 356.4,791.9 358.6,788.9 360.8,785.8 362.9,782.8 365.1,779.8 367.2,776.7 369.3,773.7 371.5,770.7 373.6,767.6 375.7,764.6 377.9,761.5 380.0,758.5 382.1,755.5 384.2,752.4 386.3,749.3 388.4,746.3 390.6,743.2 392.7,740.2 394.8,737.1 396.9,734.0 399.0,731.0 401.1,727.9 403.1,724.8 405.2,721.8 407.3,718.7 409.4,715.6 411.5,712.5 413.5,709.4 415.6,706.4 417.7,703.3 419.7,700.2 421.8,697.1 423.9,694.0 425.9,690.9 427.9,687.8 430.0,684.7 432.0,681.6 434.1,678.5 436.1,675.4 438.1,672.3 440.2,669.1 442.2,666.0 444.2,662.9 446.3,659.8 448.3,656.7 450.3,653.6 452.3,650.4 454.3,647.3 456.3,644.2 458.3,641.0 460.3,637.9 462.3,634.8 464.3,631.6 466.3,628.5 468.3,625.4 470.3,622.2 472.2,619.1 474.2,615.9 476.2,612.8 478.2,609.6 480.1,606.5 482.1,603.3 484.1,600.2 486.0,597.0 488.0,593.9 489.9,590.7 491.9,587.5 493.8,584.4 495.7,581.2 497.7,578.0 499.6,574.8 501.6,571.7 503.5,568.5 505.4,565.3 507.3,562.1 509.2,559.0 511.1,555.8 513.1,552.6 515.0,549.4 516.9,546.2 518.8,543.0 520.7,539.8 522.6,536.6 524.5,533.4 526.4,530.2 528.2,527.0 530.1,523.8 532.0,520.6 533.9,517.4 535.8,514.2 537.6,511.0 539.5,507.8 541.4,504.6 543.2,501.4 545.1,498.1 546.9,494.9 548.8,491.7 550.6,488.5 552.5,485.3 554.3,482.0 556.2,478.8 558.0,475.6 559.8,472.4 561.7,469.1 563.5,465.9 565.3,462.7 567.1,459.4 569.0,456.2 570.8,452.9 572.6,449.7 574.4,446.4 576.2,443.2 578.0,440.0 579.8,436.7 581.6,433.5 583.4,430.2 585.2,427.0 586.9,423.7 588.7,420.4 590.5,417.2 592.3,413.9 594.0,410.7 595.8,407.4 597.6,404.1 599.4,400.9 601.1,397.6 602.9,394.3 604.6,391.1 606.4,387.8 608.1,384.5 609.9,381.2 611.6,378.0 613.4,374.7 615.1,371.4 616.8,368.1 618.6,364.9 620.3,361.6 622.0,358.3 623.8,355.0 625.5,351.8 627.3,348.5 629.0,345.2 630.8,341.9 632.5,338.7 634.2,335.4 636.0,332.1 637.7,328.8 639.5,325.6 641.2,322.3 643.0,319.0 644.7,315.8 646.5,312.5 648.2,309.2 650.0,305.9 651.8,302.7 653.5,299.4 655.3,296.2 657.1,292.9 658.9,289.7 660.6,286.4 662.4,283.2 664.2,279.9 666.0,276.7 667.9,273.4 669.7,270.2 671.5,267.0 673.3,263.7 675.1,260.5 677.0,257.3 678.8,254.1 680.7,250.8 682.5,247.6 684.4,244.4 686.3,241.2 688.2,238.0 690.0,234.8 692.0,231.6 693.9,228.4 695.8,225.3 697.7,222.1 699.6,218.9 701.6,215.8 703.5,212.6 705.5,209.4 707.5,206.3 709.5,203.1 711.5,200.0 713.5,196.9 715.5,193.7 717.5,190.6 719.6,187.5 721.6,184.4 723.7,181.3 725.8,178.2 727.9,175.1 730.0,172.0 732.1,168.9 734.2,165.9 736.4,162.8 738.6,159.7 740.7,156.7 742.9,153.7 745.1,150.6 747.4,147.6 749.6,144.7 751.9,141.7 754.2,138.8 756.6,135.9 759.0,133.0 761.4,130.2 763.8,127.5 766.4,124.8 768.9,122.1 771.5,119.5 774.2,117.0 776.9,114.6 779.6,112.2 782.5,109.9 785.4,107.7 788.3,105.6 791.4,103.5 794.5,101.6 797.6,99.7 800.9,98.0 804.1,96.3 807.5,94.7 810.8,93.2 814.2,91.8 817.6,90.4 821.1,89.1 824.6,87.9 828.0,86.8 831.5,85.7 835.1,84.7 838.6,83.8 842.1,82.9 845.7,82.1 849.3,81.4 852.9,80.7 856.5,80.1 860.1,79.5 863.7,79.0 867.4,78.5 871.0,78.0 874.7,77.6 878.4,77.3 882.1,77.0 885.8,76.7 889.5,76.5 893.2,76.3 896.9,76.1 900.6,76.0 904.3,75.9 908.1,75.8 911.8,75.7 915.6,75.7 919.3,75.6 923.0,75.6 926.8,75.6 930.6,75.7 934.3,75.7 938.1,75.7 941.8,75.8 945.6,75.8 949.4,75.9 953.1,75.9 956.9,76.0 960.6,76.0 964.4,76.1 968.1,76.1 971.9,76.2 975.6,76.2 979.4,76.3 983.1,76.4 986.8,76.4 990.6,76.5 994.3,76.6 998.0,76.6 1001.8,76.7 1005.5,76.8 1009.2,76.9 1013.0,77.0 1016.7,77.1 1020.4,77.2 1024.2,77.3 1027.9,77.5 1031.6,77.6 1035.3,77.7 1039.0,77.9 1042.7,78.0 1046.5,78.2 1050.2,78.4 1053.9,78.5 1057.6,78.7 1061.3,79.0 1065.0,79.2 1068.7,79.4 1072.4,79.6 1076.0,79.9 1079.7,80.2 1083.4,80.4 1087.1,80.7 1090.8,81.0 1094.5,81.3 1098.1,81.7 1101.8,82.0 1105.5,82.4 1109.2,82.8 1112.8,83.2 1116.5,83.6 1120.1,84.0 1123.8,84.5 1127.4,84.9 1131.1,85.4 1134.7,85.9 1138.4,86.5 1142.0,87.0 1145.7,87.5 1149.3,88.1 1152.9,88.7 1156.6,89.4 1160.2,90.0 1163.8,90.7 1167.4,91.4 1171.0,92.1 1174.7,92.8 1178.3,93.5 1181.9,94.3 1185.5,95.1 1189.1,95.9 1192.7,96.7 1196.3,97.6 1199.8,98.4 1203.4,99.3 1207.0,100.2 1210.6,101.1 1214.2,102.0 1217.8,103.0 1221.3,103.9 1224.9,104.9 1228.5,105.9 1232.1,106.9 1235.6,107.9 1239.2,108.9 1242.8,110.0 1246.3,111.0 1249.9,112.1 1253.4,113.2 1257.0,114.3 1260.5,115.4 1264.1,116.5 1267.6,117.6 1271.2,118.7 1274.7,119.9 1278.3,121.0 1281.8,122.2 1285.3,123.4 1288.9,124.5 1292.4,125.7 1296.0,126.9 1299.5,128.1 1303.0,129.3 1306.5,130.5 1310.1,131.7 1313.6,133.0 1317.1,134.2 1320.7,135.4 1324.2,136.7 1327.7,137.9 1331.2,139.1 1334.8,140.4 1338.3,141.6 1341.8,142.9 1345.3,144.1 1348.8,145.4 1352.4,146.6 1355.9,147.9 1359.4,149.1 1362.9,150.4 1366.5,151.7 1370.0,152.9 1373.5,154.2 1377.0,155.4 1380.5,156.7 1384.0,157.9 1387.5,159.1 1391.1,160.4 1394.6,161.6 1398.1,162.8 1401.6,164.1 1405.1,165.3 1408.7,166.5 1412.2,167.7 1415.7,168.9 1419.2,170.1 1422.7,171.3 1426.2,172.5 1429.8,173.7 1433.3,174.8 1436.8,176.0 1440.3,177.2 1443.8,178.3 1447.4,179.4 1450.9,180.6 1454.4,181.7 1457.9,182.8 1461.5,183.9 1465.0,185.0 1468.5,186.1 1472.0,187.2 1475.5,188.3 1479.1,189.4 1482.6,190.5 1486.1,191.6 1489.6,192.8 1493.1,193.9 1496.6,195.0 1500.1,196.1 1503.6,197.2 1507.1,198.3 1510.6,199.5 1514.1,200.6 1517.6,201.8 1521.1,202.9 1524.6,204.1 1528.1,205.3 1531.6,206.5 1535.0,207.8 1538.5,209.0 1542.0,210.2 1545.5,211.5 1548.9,212.8 1552.4,214.1 1555.8,215.4 1559.2,216.7 1562.7,218.1 1566.1,219.5 1569.5,220.9 1573.0,222.3 1576.4,223.8 1579.8,225.2 1583.2,226.8 1586.6,228.3 1590.0,229.8 1593.3,231.4 1596.7,233.1 1600.1,234.7 1603.4,236.4 1606.8,238.1 1610.1,239.8 1613.5,241.6 1616.8,243.4 1620.1,245.3 1623.4,247.2 1626.7,249.1 1630.0,251.1" stroke="#37AD6B"/>
<path d="M250.0,909.7 258.5,899.2 260.9,896.3 263.2,893.4 265.5,890.6 267.9,887.7 270.2,884.8 272.5,881.9 274.8,879.0 277.1,876.1 279.4,873.2 281.7,870.3 284.0,867.4 286.3,864.5 288.6,861.6 290.8,858.7 293.1,855.8 295.4,852.9 297.6,849.9 299.9,847.0 302.2,844.1 304.4,841.1 306.7,838.2 308.9,835.3 311.2,832.4 313.4,829.4 315.6,826.5 317.9,823.5 320.1,820.6 322.3,817.6 324.5,814.7 326.7,811.8 328.9,808.8 331.1,805.8 333.3,802.9 335.5,799.9 337.7,797.0 339.9,794.0 342.1,791.0 344.3,788.0 346.4,785.1 348.6,782.1 350.8,779.1 352.9,776.1 355.1,773.2 357.2,770.2 359.4,767.2 361.6,764.2 363.7,761.2 365.8,758.2 368.0,755.2 370.1,752.2 372.2,749.2 374.4,746.2 376.5,743.2 378.6,740.2 380.7,737.2 382.8,734.2 384.9,731.1 387.0,728.1 389.1,725.1 391.2,722.1 393.3,719.1 395.4,716.0 397.5,713.0 399.6,710.0 401.6,707.0 403.7,703.9 405.8,700.9 407.9,697.8 409.9,694.8 412.0,691.8 414.1,688.7 416.1,685.7 418.2,682.6 420.2,679.6 422.3,676.5 424.3,673.5 426.3,670.4 428.4,667.3 430.4,664.3 432.4,661.2 434.5,658.1 436.5,655.1 438.5,652.0 440.5,648.9 442.6,645.9 444.6,642.8 446.6,639.7 448.6,636.6 450.6,633.5 452.6,630.5 454.6,627.4 456.6,624.3 458.6,621.2 460.6,618.1 462.5,615.0 464.5,611.9 466.5,608.8 468.5,605.7 470.4,602.6 472.4,599.5 474.4,596.4 476.4,593.3 478.3,590.2 480.3,587.1 482.2,584.0 484.2,580.9 486.1,577.7 488.1,574.6 490.1,571.5 492.0,568.4 493.9,565.2 495.9,562.1 497.8,559.0 499.8,555.9 501.7,552.7 503.6,549.6 505.6,546.5 507.5,543.3 509.4,540.2 511.3,537.1 513.2,533.9 515.2,530.8 517.1,527.6 519.0,524.5 520.9,521.3 522.8,518.2 524.7,515.0 526.6,511.9 528.5,508.7 530.4,505.6 532.3,502.4 534.2,499.3 536.1,496.1 538.0,492.9 539.9,489.8 541.8,486.6 543.7,483.4 545.5,480.3 547.4,477.1 549.3,473.9 551.2,470.8 553.1,467.6 554.9,464.4 556.8,461.2 558.7,458.0 560.5,454.9 562.4,451.7 564.3,448.5 566.1,445.3 568.0,442.1 569.9,438.9 571.7,435.7 573.6,432.6 575.4,429.4 577.3,426.2 579.1,423.0 581.0,419.8 582.8,416.6 584.7,413.4 586.5,410.2 588.4,407.0 590.2,403.8 592.0,400.6 593.9,397.3 595.7,394.1 597.6,390.9 599.4,387.7 601.2,384.5 603.1,381.3 604.9,378.1 606.7,374.9 608.6,371.6 610.4,368.4 612.2,365.2 614.0,362.0 615.9,358.8 617.7,355.5 619.5,352.3 621.3,349.1 623.1,345.8 625.0,342.6 626.8,339.4 628.6,336.1 630.4,332.9 632.2,329.7 634.1,326.5 635.9,323.2 637.7,320.0 639.5,316.8 641.4,313.6 643.2,310.3 645.0,307.1 646.9,303.9 648.7,300.7 650.6,297.5 652.4,294.3 654.3,291.1 656.1,287.9 658.0,284.7 659.9,281.5 661.8,278.4 663.7,275.2 665.6,272.0 667.5,268.9 669.4,265.7 671.3,262.6 673.3,259.4 675.2,256.3 677.2,253.2 679.1,250.1 681.1,246.9 683.1,243.8 685.1,240.8 687.1,237.7 689.1,234.6 691.1,231.6 693.2,228.5 695.3,225.5 697.3,222.5 699.4,219.5 701.5,216.5 703.6,213.5 705.8,210.5 707.9,207.6 710.1,204.6 712.3,201.7 714.5,198.8 716.7,195.9 718.9,193.0 721.2,190.1 723.5,187.3 725.8,184.4 728.1,181.6 730.4,178.8 732.7,176.0 735.1,173.2 737.5,170.5 739.9,167.7 742.3,165.0 744.8,162.3 747.3,159.6 749.8,157.0 752.3,154.3 754.8,151.7 757.4,149.1 760.0,146.5 762.6,143.9 765.3,141.4 767.9,138.9 770.6,136.4 773.3,133.9 776.1,131.4 778.9,129.0 781.7,126.6 784.5,124.2 787.4,121.9 790.2,119.6 793.2,117.4 796.1,115.2 799.1,113.0 802.2,111.0 805.2,109.0 808.4,107.0 811.5,105.2 814.7,103.4 817.9,101.8 821.2,100.2 824.5,98.8 827.9,97.4 831.3,96.1 834.8,95.0 838.3,93.9 841.8,92.9 845.4,92.0 849.0,91.2 852.6,90.4 856.2,89.6 859.8,89.0 863.5,88.3 867.1,87.7 870.8,87.2 874.5,86.7 878.1,86.2 881.8,85.8 885.5,85.4 889.2,85.0 892.9,84.6 896.6,84.2 900.3,83.9 904.0,83.5 907.7,83.2 911.4,82.9 915.1,82.5 918.8,82.2 922.5,81.9 926.2,81.6 929.9,81.3 933.5,81.1 937.2,80.8 940.9,80.5 944.6,80.3 948.2,80.0 951.9,79.8 955.6,79.6 959.2,79.4 962.9,79.2 966.6,79.0 970.2,78.8 973.9,78.6 977.6,78.4 981.2,78.2 984.9,78.1 988.5,78.0 992.2,77.8 995.9,77.7 999.5,77.6 1003.2,77.5 1006.9,77.4 1010.5,77.3 1014.2,77.3 1017.8,77.2 1021.5,77.2 1025.2,77.2 1028.8,77.2 1032.5,77.1 1036.1,77.2 1039.8,77.2 1043.5,77.2 1047.1,77.2 1050.8,77.3 1054.5,77.4 1058.1,77.5 1061.8,77.5 1065.5,77.7 1069.2,77.8 1072.8,77.9 1076.5,78.0 1080.2,78.2 1083.9,78.4 1087.5,78.6 1091.2,78.8 1094.9,79.0 1098.6,79.2 1102.3,79.5 1106.0,79.8 1109.7,80.1 1113.3,80.4 1117.0,80.8 1120.7,81.2 1124.3,81.6 1128.0,82.0 1131.7,82.5 1135.3,83.0 1139.0,83.5 1142.6,84.1 1146.2,84.7 1149.8,85.3 1153.5,86.0 1157.1,86.7 1160.7,87.5 1164.3,88.3 1167.8,89.1 1171.4,90.0 1175.0,90.9 1178.5,91.8 1182.1,92.8 1185.6,93.8 1189.1,94.9 1192.6,96.0 1196.1,97.1 1199.6,98.2 1203.1,99.3 1206.6,100.5 1210.1,101.7 1213.6,103.0 1217.0,104.2 1220.5,105.5 1224.0,106.7 1227.4,108.0 1230.9,109.3 1234.3,110.7 1237.8,112.0 1241.2,113.3 1244.6,114.7 1248.0,116.0 1251.5,117.4 1254.9,118.8 1258.3,120.2 1261.7,121.6 1265.1,123.0 1268.5,124.4 1271.9,125.8 1275.3,127.2 1278.7,128.6 1282.1,130.1 1285.5,131.5 1288.9,133.0 1292.3,134.4 1295.6,135.9 1299.0,137.4 1302.4,138.8 1305.8,140.3 1309.1,141.8 1312.5,143.3 1315.9,144.8 1319.2,146.3 1322.6,147.8 1325.9,149.3 1329.3,150.8 1332.6,152.4 1336.0,153.9 1339.3,155.4 1342.7,157.0 1346.0,158.5 1349.4,160.1 1352.7,161.6 1356.0,163.2 1359.4,164.7 1362.7,166.3 1366.0,167.8 1369.4,169.4 1372.7,171.0 1376.0,172.5 1379.4,174.1 1382.7,175.7 1386.0,177.2 1389.4,178.8 1392.7,180.4 1396.0,182.0 1399.3,183.6 1402.7,185.2 1406.0,186.7 1409.3,188.3 1412.7,189.9 1416.0,191.5 1419.3,193.1 1422.6,194.7 1425.9,196.3 1429.3,197.8 1432.6,199.4 1435.9,201.0 1439.2,202.6 1442.6,204.2 1445.9,205.8 1449.2,207.3 1452.5,208.9 1455.9,210.5 1459.2,212.1 1462.5,213.7 1465.9,215.2 1469.2,216.8 1472.5,218.4 1475.9,219.9 1479.2,221.5 1482.5,223.1 1485.9,224.6 1489.2,226.2 1492.5,227.7 1495.9,229.3 1499.2,230.8 1502.6,232.4 1505.9,233.9 1509.3,235.4 1512.6,237.0 1516.0,238.5 1519.3,240.0 1522.7,241.5 1526.1,243.1 1529.4,244.6 1532.8,246.1 1536.2,247.6 1539.5,249.1 1542.9,250.6 1546.2,252.1 1549.6,253.6 1553.0,255.1 1556.3,256.6 1559.7,258.1 1563.1,259.6 1566.4,261.1 1569.8,262.6 1573.1,264.1 1576.5,265.6 1579.8,267.2 1583.2,268.7 1586.5,270.2 1589.8,271.8 1593.2,273.3 1596.5,274.9 1599.8,276.5 1603.1,278.1 1606.4,279.7 1609.7,281.3 1613.0,282.9 1616.3,284.5 1619.6,286.1 1622.9,287.8 1626.2,289.4 1629.4,291.0" stroke="#B177DE"/>
<path d="M250.0,891.1 258.5,880.4 260.7,877.5 263.0,874.6 265.2,871.8 267.5,868.9 269.7,866.0 272.0,863.2 274.2,860.3 276.5,857.4 278.7,854.5 280.9,851.6 283.2,848.8 285.4,845.9 287.7,843.0 289.9,840.1 292.1,837.2 294.4,834.3 296.6,831.4 298.9,828.5 301.1,825.6 303.3,822.7 305.5,819.8 307.8,816.9 310.0,814.0 312.2,811.1 314.4,808.1 316.7,805.2 318.9,802.3 321.1,799.4 323.3,796.5 325.5,793.5 327.7,790.6 329.9,787.7 332.2,784.8 334.4,781.8 336.6,778.9 338.8,776.0 341.0,773.0 343.2,770.1 345.4,767.1 347.6,764.2 349.8,761.2 351.9,758.3 354.1,755.4 356.3,752.4 358.5,749.4 360.7,746.5 362.9,743.5 365.1,740.6 367.2,737.6 369.4,734.6 371.6,731.7 373.7,728.7 375.9,725.7 378.1,722.8 380.2,719.8 382.4,716.8 384.5,713.8 386.7,710.8 388.8,707.9 391.0,704.9 393.1,701.9 395.3,698.9 397.4,695.9 399.5,692.9 401.7,689.9 403.8,686.9 405.9,683.9 408.0,680.9 410.2,677.9 412.3,674.9 414.4,671.9 416.5,668.9 418.6,665.9 420.7,662.8 422.8,659.8 424.9,656.8 427.0,653.8 429.1,650.8 431.2,647.7 433.3,644.7 435.4,641.7 437.4,638.6 439.5,635.6 441.6,632.6 443.6,629.5 445.7,626.5 447.8,623.4 449.8,620.4 451.9,617.3 453.9,614.3 456.0,611.2 458.0,608.2 460.0,605.1 462.1,602.1 464.1,599.0 466.1,596.0 468.1,592.9 470.2,589.8 472.2,586.8 474.2,583.7 476.2,580.6 478.2,577.5 480.2,574.5 482.2,571.4 484.2,568.3 486.1,565.2 488.1,562.1 490.1,559.0 492.1,555.9 494.0,552.9 496.0,549.8 497.9,546.7 499.9,543.6 501.9,540.5 503.8,537.4 505.7,534.2 507.7,531.1 509.6,528.0 511.5,524.9 513.5,521.8 515.4,518.7 517.3,515.6 519.2,512.5 521.1,509.4 523.0,506.2 525.0,503.1 526.9,500.0 528.8,496.9 530.7,493.7 532.6,490.6 534.5,487.5 536.4,484.4 538.2,481.2 540.1,478.1 542.0,475.0 543.9,471.8 545.8,468.7 547.7,465.6 549.6,462.4 551.5,459.3 553.4,456.2 555.2,453.0 557.1,449.9 559.0,446.8 560.9,443.6 562.8,440.5 564.6,437.4 566.5,434.2 568.4,431.1 570.3,428.0 572.2,424.8 574.1,421.7 576.0,418.6 577.8,415.4 579.7,412.3 581.6,409.1 583.5,406.0 585.4,402.9 587.3,399.7 589.2,396.6 591.1,393.5 593.0,390.3 594.9,387.2 596.8,384.1 598.7,380.9 600.6,377.8 602.5,374.7 604.4,371.6 606.3,368.4 608.2,365.3 610.2,362.2 612.1,359.1 614.0,356.0 616.0,352.8 617.9,349.7 619.8,346.6 621.8,343.5 623.7,340.4 625.7,337.3 627.6,334.2 629.6,331.1 631.6,327.9 633.5,324.8 635.5,321.7 637.5,318.6 639.5,315.5 641.5,312.4 643.5,309.4 645.5,306.3 647.5,303.2 649.5,300.1 651.5,297.0 653.5,293.9 655.5,290.8 657.6,287.8 659.6,284.7 661.7,281.6 663.7,278.5 665.8,275.5 667.9,272.4 669.9,269.4 672.0,266.3 674.1,263.2 676.2,260.2 678.3,257.1 680.4,254.1 682.5,251.1 684.7,248.0 686.8,245.0 689.0,241.9 691.1,238.9 693.3,235.9 695.4,232.9 697.6,229.9 699.8,226.9 702.0,223.9 704.3,221.0 706.5,218.0 708.8,215.1 711.0,212.2 713.3,209.2 715.6,206.4 717.9,203.5 720.2,200.6 722.6,197.8 724.9,195.0 727.3,192.2 729.7,189.4 732.1,186.7 734.6,184.0 737.0,181.3 739.5,178.6 742.0,176.0 744.6,173.4 747.1,170.8 749.7,168.3 752.3,165.8 754.9,163.3 757.5,160.8 760.2,158.4 762.9,156.1 765.6,153.7 768.4,151.4 771.2,149.2 774.0,147.0 776.8,144.8 779.7,142.7 782.6,140.6 785.5,138.5 788.5,136.5 791.5,134.6 794.5,132.7 797.5,130.8 800.6,129.0 803.7,127.2 806.9,125.5 810.1,123.9 813.3,122.3 816.6,120.8 819.9,119.3 823.2,117.8 826.6,116.5 830.0,115.2 833.5,113.9 837.0,112.7 840.5,111.5 844.0,110.4 847.6,109.4 851.2,108.4 854.8,107.4 858.5,106.5 862.1,105.6 865.8,104.7 869.5,103.9 873.1,103.1 876.9,102.3 880.6,101.5 884.3,100.8 888.0,100.1 891.7,99.4 895.4,98.7 899.0,98.0 902.7,97.3 906.4,96.7 910.0,96.0 913.7,95.4 917.3,94.7 921.0,94.1 924.6,93.4 928.2,92.8 931.8,92.2 935.4,91.6 939.0,91.0 942.6,90.4 946.2,89.8 949.8,89.2 953.4,88.7 957.0,88.1 960.5,87.6 964.1,87.0 967.7,86.5 971.3,86.0 974.9,85.5 978.5,85.0 982.1,84.5 985.7,84.0 989.3,83.5 993.0,83.1 996.6,82.7 1000.2,82.2 1003.9,81.8 1007.5,81.4 1011.1,81.0 1014.8,80.7 1018.5,80.3 1022.1,80.0 1025.8,79.7 1029.4,79.4 1033.1,79.1 1036.8,78.9 1040.4,78.6 1044.1,78.4 1047.8,78.3 1051.5,78.1 1055.1,78.0 1058.8,77.9 1062.5,77.8 1066.1,77.8 1069.8,77.8 1073.5,77.8 1077.1,77.8 1080.8,77.9 1084.5,78.0 1088.1,78.2 1091.8,78.3 1095.4,78.6 1099.0,78.8 1102.7,79.1 1106.3,79.4 1110.0,79.8 1113.6,80.2 1117.2,80.7 1120.8,81.2 1124.4,81.7 1128.0,82.3 1131.5,82.9 1135.1,83.5 1138.7,84.3 1142.2,85.0 1145.8,85.8 1149.3,86.7 1152.8,87.6 1156.3,88.5 1159.8,89.5 1163.3,90.6 1166.8,91.7 1170.2,92.9 1173.7,94.1 1177.1,95.3 1180.6,96.6 1184.0,98.0 1187.4,99.3 1190.8,100.7 1194.2,102.2 1197.5,103.7 1200.9,105.2 1204.2,106.7 1207.6,108.3 1210.9,109.9 1214.2,111.5 1217.5,113.2 1220.8,114.8 1224.1,116.5 1227.4,118.3 1230.6,120.0 1233.9,121.8 1237.1,123.5 1240.3,125.3 1243.6,127.1 1246.8,128.9 1250.0,130.7 1253.2,132.5 1256.3,134.3 1259.5,136.1 1262.7,138.0 1265.9,139.8 1269.0,141.7 1272.2,143.5 1275.3,145.4 1278.5,147.2 1281.6,149.1 1284.7,151.0 1287.9,152.9 1291.0,154.8 1294.1,156.7 1297.3,158.5 1300.4,160.4 1303.5,162.3 1306.6,164.2 1309.8,166.1 1312.9,168.0 1316.0,169.9 1319.2,171.8 1322.3,173.6 1325.4,175.5 1328.5,177.4 1331.7,179.3 1334.8,181.2 1338.0,183.0 1341.1,184.9 1344.2,186.8 1347.4,188.7 1350.5,190.5 1353.7,192.4 1356.8,194.3 1360.0,196.1 1363.2,198.0 1366.3,199.9 1369.5,201.7 1372.6,203.6 1375.8,205.4 1379.0,207.3 1382.1,209.1 1385.3,211.0 1388.5,212.8 1391.6,214.6 1394.8,216.5 1398.0,218.3 1401.2,220.1 1404.3,221.9 1407.5,223.8 1410.7,225.6 1413.9,227.4 1417.1,229.2 1420.3,231.0 1423.5,232.8 1426.7,234.6 1429.9,236.4 1433.1,238.2 1436.3,240.0 1439.5,241.8 1442.7,243.5 1445.9,245.3 1449.1,247.1 1452.3,248.8 1455.6,250.6 1458.8,252.3 1462.0,254.1 1465.2,255.8 1468.5,257.6 1471.7,259.3 1475.0,261.0 1478.2,262.8 1481.4,264.5 1484.7,266.2 1487.9,267.9 1491.2,269.6 1494.4,271.3 1497.7,273.0 1500.9,274.7 1504.2,276.3 1507.5,278.0 1510.7,279.7 1514.0,281.3 1517.3,283.0 1520.6,284.6 1523.8,286.3 1527.1,287.9 1530.4,289.5 1533.7,291.1 1537.0,292.8 1540.3,294.4 1543.6,296.0 1546.9,297.6 1550.2,299.1 1553.5,300.7 1556.8,302.3 1560.2,303.8 1563.5,305.4 1566.8,306.9 1570.1,308.5 1573.5,310.0 1576.8,311.5 1580.1,313.1 1583.5,314.6 1586.8,316.1 1590.2,317.5 1593.5,319.0 1596.9,320.5 1600.2,322.0 1603.6,323.4 1607.0,324.9 1610.3,326.3 1613.7,327.7 1617.1,329.2 1620.5,330.6 1623.9,332.0 1627.3,333.4 1630.7,334.8" stroke="#CC9900"/>
<path d="M250.0,885.2 258.3,875.4 260.7,872.5 263.1,869.7 265.4,866.9 267.8,864.0 270.1,861.2 272.5,858.3 274.9,855.5 277.2,852.6 279.6,849.8 281.9,846.9 284.2,844.1 286.6,841.2 288.9,838.4 291.2,835.5 293.5,832.6 295.8,829.7 298.1,826.9 300.4,824.0 302.7,821.1 305.0,818.2 307.3,815.3 309.6,812.4 311.9,809.5 314.2,806.6 316.4,803.8 318.7,800.9 321.0,798.0 323.2,795.0 325.5,792.1 327.7,789.2 330.0,786.3 332.2,783.4 334.4,780.5 336.7,777.6 338.9,774.6 341.1,771.7 343.4,768.8 345.6,765.9 347.8,762.9 350.0,760.0 352.2,757.1 354.4,754.1 356.6,751.2 358.8,748.2 361.0,745.3 363.2,742.4 365.3,739.4 367.5,736.5 369.7,733.5 371.9,730.5 374.0,727.6 376.2,724.6 378.4,721.7 380.5,718.7 382.7,715.7 384.8,712.8 387.0,709.8 389.1,706.8 391.3,703.8 393.4,700.9 395.5,697.9 397.7,694.9 399.8,691.9 401.9,688.9 404.0,686.0 406.2,683.0 408.3,680.0 410.4,677.0 412.5,674.0 414.6,671.0 416.7,668.0 418.8,665.0 420.9,662.0 423.0,659.0 425.1,656.0 427.2,653.0 429.3,650.0 431.4,646.9 433.4,643.9 435.5,640.9 437.6,637.9 439.7,634.9 441.8,631.9 443.8,628.8 445.9,625.8 448.0,622.8 450.0,619.8 452.1,616.7 454.1,613.7 456.2,610.7 458.2,607.6 460.3,604.6 462.4,601.6 464.4,598.5 466.4,595.5 468.5,592.5 470.5,589.4 472.6,586.4 474.6,583.3 476.6,580.3 478.7,577.2 480.7,574.2 482.7,571.1 484.8,568.1 486.8,565.0 488.8,562.0 490.8,558.9 492.9,555.8 494.9,552.8 496.9,549.7 498.9,546.7 500.9,543.6 502.9,540.5 504.9,537.5 507.0,534.4 509.0,531.3 511.0,528.3 513.0,525.2 515.0,522.1 517.0,519.0 519.0,516.0 521.0,512.9 523.0,509.8 525.0,506.7 527.0,503.7 529.0,500.6 531.0,497.5 533.0,494.4 535.0,491.3 537.0,488.2 539.0,485.2 541.0,482.1 542.9,479.0 544.9,475.9 546.9,472.8 548.9,469.7 550.9,466.6 552.9,463.6 554.9,460.5 556.9,457.4 558.8,454.3 560.8,451.2 562.8,448.1 564.8,445.0 566.8,441.9 568.8,438.8 570.7,435.7 572.7,432.6 574.7,429.5 576.7,426.4 578.6,423.3 580.6,420.2 582.6,417.1 584.6,414.0 586.6,410.9 588.5,407.8 590.5,404.7 592.5,401.6 594.5,398.4 596.5,395.3 598.5,392.2 600.4,389.1 602.4,386.0 604.4,382.9 606.4,379.8 608.4,376.7 610.3,373.6 612.3,370.5 614.3,367.4 616.3,364.2 618.2,361.1 620.2,358.0 622.2,354.9 624.2,351.8 626.2,348.7 628.2,345.6 630.1,342.4 632.1,339.3 634.1,336.2 636.1,333.1 638.1,330.0 640.1,326.9 642.1,323.8 644.1,320.6 646.0,317.5 648.0,314.4 650.0,311.3 652.0,308.2 654.0,305.1 656.0,301.9 658.0,298.8 660.0,295.7 662.0,292.6 664.0,289.5 666.0,286.4 668.0,283.2 670.0,280.1 672.1,277.0 674.1,273.9 676.1,270.9 678.2,267.8 680.2,264.7 682.3,261.7 684.4,258.6 686.5,255.6 688.6,252.6 690.7,249.6 692.9,246.6 695.0,243.6 697.2,240.6 699.4,237.7 701.6,234.8 703.8,231.9 706.0,229.0 708.3,226.1 710.6,223.3 712.9,220.5 715.3,217.7 717.6,214.9 720.0,212.2 722.5,209.5 724.9,206.8 727.4,204.2 729.9,201.6 732.4,199.0 735.0,196.4 737.6,193.9 740.2,191.4 742.9,188.9 745.6,186.5 748.4,184.1 751.1,181.8 754.0,179.5 756.8,177.2 759.7,175.0 762.6,172.8 765.5,170.6 768.4,168.5 771.4,166.4 774.4,164.3 777.5,162.3 780.5,160.3 783.6,158.3 786.7,156.4 789.9,154.5 793.0,152.7 796.2,150.9 799.4,149.1 802.6,147.4 805.9,145.7 809.1,144.0 812.4,142.4 815.7,140.8 819.0,139.2 822.4,137.7 825.7,136.2 829.1,134.8 832.5,133.4 835.9,132.0 839.3,130.7 842.7,129.3 846.1,128.1 849.5,126.8 853.0,125.6 856.5,124.4 859.9,123.2 863.4,122.1 866.9,121.0 870.4,119.9 873.9,118.8 877.4,117.7 880.9,116.7 884.4,115.7 887.9,114.7 891.4,113.7 894.9,112.7 898.5,111.7 902.0,110.7 905.5,109.8 909.0,108.8 912.6,107.9 916.1,107.0 919.6,106.1 923.2,105.2 926.7,104.3 930.3,103.5 933.8,102.6 937.4,101.7 941.0,100.9 944.6,100.1 948.1,99.2 951.7,98.4 955.3,97.6 958.9,96.8 962.5,96.0 966.2,95.3 969.8,94.5 973.4,93.7 977.1,93.0 980.7,92.2 984.4,91.5 988.1,90.8 991.7,90.0 995.4,89.3 999.1,88.7 1002.8,88.0 1006.5,87.3 1010.2,86.7 1013.9,86.1 1017.6,85.5 1021.3,84.9 1025.0,84.4 1028.8,83.8 1032.5,83.4 1036.2,82.9 1039.9,82.5 1043.6,82.1 1047.3,81.7 1051.0,81.4 1054.7,81.2 1058.4,80.9 1062.0,80.7 1065.7,80.6 1069.4,80.5 1073.0,80.4 1076.7,80.4 1080.3,80.4 1083.9,80.5 1087.6,80.7 1091.2,80.9 1094.7,81.1 1098.3,81.5 1101.9,81.8 1105.4,82.3 1109.0,82.8 1112.5,83.3 1116.0,84.0 1119.4,84.7 1122.9,85.5 1126.3,86.3 1129.7,87.2 1133.1,88.2 1136.5,89.2 1139.9,90.3 1143.2,91.5 1146.6,92.7 1149.9,94.0 1153.2,95.3 1156.5,96.7 1159.7,98.2 1163.0,99.7 1166.2,101.2 1169.5,102.8 1172.7,104.4 1175.9,106.1 1179.1,107.8 1182.3,109.6 1185.4,111.3 1188.6,113.2 1191.7,115.0 1194.9,117.0 1198.0,118.9 1201.1,120.8 1204.2,122.8 1207.3,124.9 1210.4,126.9 1213.5,129.0 1216.6,131.1 1219.7,133.2 1222.7,135.3 1225.8,137.4 1228.8,139.6 1231.9,141.8 1234.9,143.9 1238.0,146.1 1241.0,148.3 1244.0,150.5 1247.1,152.7 1250.1,154.9 1253.1,157.2 1256.2,159.4 1259.2,161.6 1262.2,163.8 1265.2,166.0 1268.2,168.2 1271.3,170.4 1274.3,172.6 1277.3,174.7 1280.3,176.9 1283.3,179.1 1286.4,181.3 1289.4,183.4 1292.4,185.6 1295.4,187.7 1298.5,189.9 1301.5,192.0 1304.5,194.2 1307.5,196.3 1310.5,198.4 1313.6,200.6 1316.6,202.7 1319.6,204.8 1322.6,206.9 1325.7,209.0 1328.7,211.1 1331.7,213.2 1334.7,215.3 1337.8,217.3 1340.8,219.4 1343.8,221.5 1346.9,223.5 1349.9,225.6 1353.0,227.6 1356.0,229.7 1359.0,231.7 1362.1,233.8 1365.1,235.8 1368.2,237.8 1371.2,239.8 1374.3,241.8 1377.3,243.8 1380.4,245.8 1383.5,247.8 1386.5,249.8 1389.6,251.8 1392.7,253.7 1395.8,255.7 1398.8,257.6 1401.9,259.6 1405.0,261.5 1408.1,263.4 1411.2,265.4 1414.3,267.3 1417.4,269.2 1420.5,271.1 1423.6,273.0 1426.7,274.9 1429.8,276.8 1432.9,278.6 1436.0,280.5 1439.2,282.4 1442.3,284.2 1445.4,286.1 1448.6,287.9 1451.7,289.7 1454.9,291.6 1458.0,293.4 1461.2,295.2 1464.3,297.0 1467.5,298.8 1470.7,300.6 1473.9,302.3 1477.1,304.1 1480.2,305.9 1483.4,307.6 1486.7,309.3 1489.8,311.1 1493.1,312.8 1496.3,314.5 1499.5,316.2 1502.7,317.9 1506.0,319.6 1509.2,321.3 1512.5,323.0 1515.7,324.6 1519.0,326.3 1522.2,327.9 1525.5,329.6 1528.8,331.2 1532.1,332.8 1535.4,334.4 1538.7,336.0 1542.0,337.6 1545.3,339.2 1548.6,340.8 1552.0,342.4 1555.3,343.9 1558.7,345.5 1562.0,347.0 1565.4,348.5 1568.7,350.0 1572.1,351.6 1575.5,353.1 1578.9,354.5 1582.3,356.0 1585.7,357.5 1589.1,358.9 1592.5,360.4 1596.0,361.8 1599.4,363.3 1602.9,364.7 1606.3,366.1 1609.8,367.5 1613.3,368.9 1616.8,370.2 1620.3,371.6 1623.8,373.0 1627.3,374.3 1630.8,375.7" stroke="#00CBCC"/>
</g>
<text x="257.1" y="1242.0" font-size="58" text-anchor="middle">3.5</text>
<text x="485.7" y="1242.0" font-size="58" text-anchor="middle">4.0</text>
<text x="714.3" y="1242.0" font-size="58" text-anchor="middle">4.5</text>
<text x="942.9" y="1242.0" font-size="58" text-anchor="middle">5.0</text>
<text x="1171.5" y="1242.0" font-size="58" text-anchor="middle">5.5</text>
<text x="1400.1" y="1242.0" font-size="58" text-anchor="middle">6.0</text>
<text x="1628.7" y="1242.0" font-size="58" text-anchor="middle">6.5</text>
<text x="235.1" y="81.6" font-size="59" text-anchor="end">0</text>
<text x="235.1" y="399.1" font-size="59" text-anchor="end">10</text>
<text transform="translate(141.29,399.10) scale(1.127,1)" font-size="59">&#8722;</text>
<text x="235.1" y="716.6" font-size="59" text-anchor="end">20</text>
<text transform="translate(141.29,716.60) scale(1.127,1)" font-size="59">&#8722;</text>
<text x="235.1" y="1034.1" font-size="59" text-anchor="end">30</text>
<text transform="translate(141.29,1034.10) scale(1.127,1)" font-size="59">&#8722;</text>
<text transform="translate(942.6,1341) scale(0.9936,1)" font-size="63" text-anchor="middle">Frequency (GHz)</text>
<text transform="translate(78.8,599.3) rotate(-90)" font-size="63" text-anchor="middle">Amplitude (dB)</text>
<rect x="1208.5" y="541.5" width="395.7" height="600.5" fill="#fff" stroke="#000" stroke-width="1.6"/>
<line x1="1217" y1="582.2" x2="1346" y2="582.2" stroke="#515151" stroke-width="8.5" stroke-linecap="round"/>
<text x="1361.2" y="601.8" font-size="58">h<tspan font-size="39" dy="15">air</tspan><tspan dy="-15">=1mm</tspan></text>
<line x1="1217" y1="667.1" x2="1346" y2="667.1" stroke="#F14040" stroke-width="8.5" stroke-linecap="round"/>
<text x="1361.2" y="686.7" font-size="58">h<tspan font-size="39" dy="15">air</tspan><tspan dy="-15">=2mm</tspan></text>
<line x1="1217" y1="751.9" x2="1346" y2="751.9" stroke="#1A6FDF" stroke-width="8.5" stroke-linecap="round"/>
<text x="1361.2" y="771.5" font-size="58">h<tspan font-size="39" dy="15">air</tspan><tspan dy="-15">=3mm</tspan></text>
<line x1="1217" y1="836.8" x2="1346" y2="836.8" stroke="#37AD6B" stroke-width="8.5" stroke-linecap="round"/>
<text x="1361.2" y="856.4" font-size="58">h<tspan font-size="39" dy="15">air</tspan><tspan dy="-15">=4mm</tspan></text>
<line x1="1217" y1="921.7" x2="1346" y2="921.7" stroke="#B177DE" stroke-width="8.5" stroke-linecap="round"/>
<text x="1361.2" y="941.3" font-size="58">h<tspan font-size="39" dy="15">air</tspan><tspan dy="-15">=5mm</tspan></text>
<line x1="1217" y1="1006.6" x2="1346" y2="1006.6" stroke="#CC9900" stroke-width="8.5" stroke-linecap="round"/>
<text x="1361.2" y="1026.2" font-size="58">h<tspan font-size="39" dy="15">air</tspan><tspan dy="-15">=6mm</tspan></text>
<line x1="1217" y1="1091.4" x2="1346" y2="1091.4" stroke="#00CBCC" stroke-width="8.5" stroke-linecap="round"/>
<text x="1361.2" y="1111.0" font-size="58">h<tspan font-size="39" dy="15">air</tspan><tspan dy="-15">=7mm</tspan></text>
</svg></body></html>
